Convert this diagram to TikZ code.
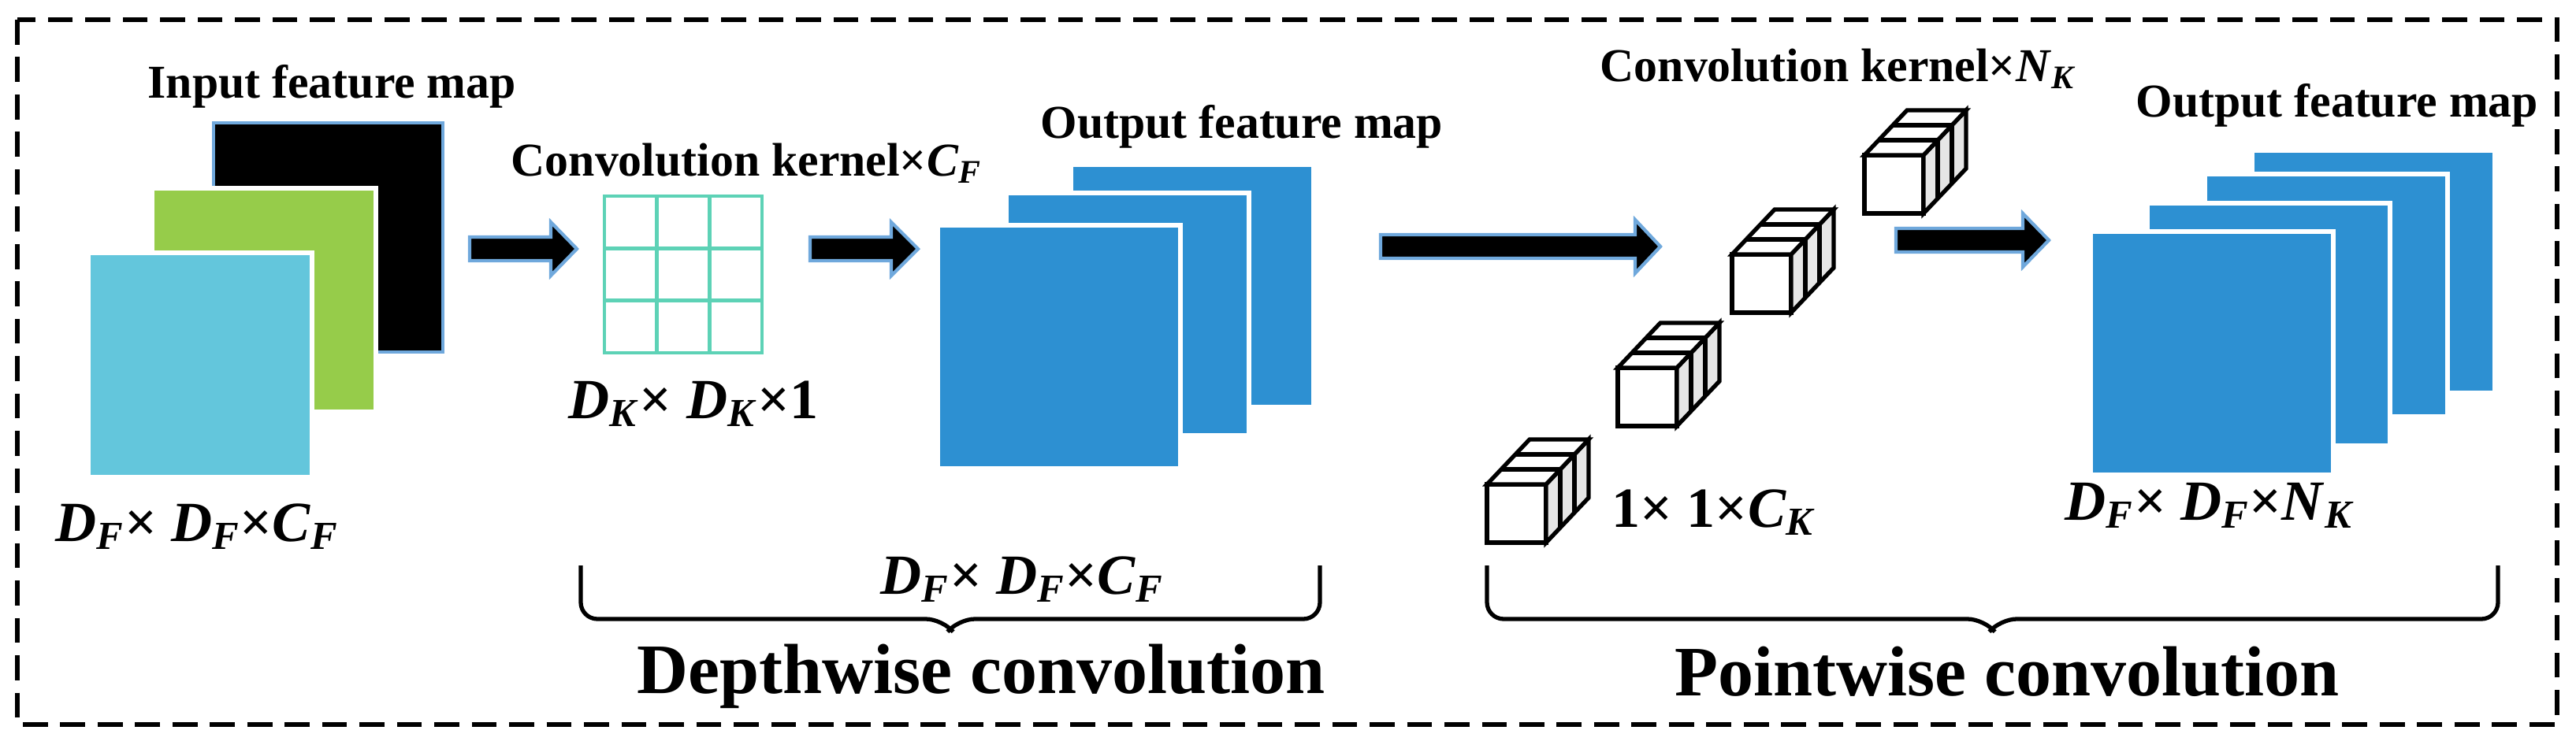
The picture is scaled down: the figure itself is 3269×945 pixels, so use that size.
\documentclass[tikz,border=0pt]{standalone}
\usepackage{fontspec}
\setmainfont{Liberation Serif}
\begin{document}
\begin{tikzpicture}[x=0.01cm,y=-0.01cm,
  ttl/.style={font=\fontsize{17}{20}\selectfont\bfseries,anchor=base west,inner sep=0},
  big/.style={font=\fontsize{25.6}{30}\selectfont\bfseries,anchor=base west,inner sep=0},
  dim/.style={font=\fontsize{20.5}{24}\selectfont\bfseries,anchor=base west,inner sep=0},
  fmap/.style={draw=white,line width=1.7pt},
  barrow/.style={fill=black,draw=arrowblue,line width=1.2pt},
  cube/.style={draw=black,line width=1.5pt,line join=miter},
  bracel/.style={draw=black,line width=1.5pt,rounded corners=6pt}]
\definecolor{cyanm}{HTML}{63C6DC}
\definecolor{greenm}{HTML}{96CC4A}
\definecolor{outblue}{HTML}{2D90D2}
\definecolor{teal}{HTML}{5DD2B6}
\definecolor{arrowblue}{HTML}{6FA8DC}
\definecolor{sidegray}{HTML}{E6E6E6}
\useasboundingbox (0,0) rectangle (3269,945);
\draw[line width=1.6pt,dash pattern=on 9pt off 4.5pt] (22,25) rectangle (3245,920);
% input maps
\path[fill=black,draw=arrowblue,line width=1.2pt] (271,156) rectangle (562,447);
\path[fmap,fill=greenm] (193,239) rectangle (477,523);
\path[fmap,fill=cyanm] (112,321) rectangle (396,606);
\node[ttl] (tin) at (187,124) {Input feature map};
\node[dim] (lin) at (70,687) {\textit{D}\textsubscript{\textit{F}}× \textit{D}\textsubscript{\textit{F}}×\textit{C}\textsubscript{\textit{F}}};
% arrows
\newcommand{\blockarr}[4]{\path[barrow] (#1,{#4-15}) -- (#3,{#4-15}) -- (#3,{#4-34}) -- (#2,#4) -- (#3,{#4+34}) -- (#3,{#4+15}) -- (#1,{#4+15}) -- cycle;}
\blockarr{596}{732}{699}{316}
\blockarr{1028}{1165}{1131}{316}
\blockarr{1752}{2107}{2075}{313}
\blockarr{2406}{2600}{2567}{305}
% grid
\draw[teal,line width=1.4pt] (767,249) rectangle (967,448);
\foreach \i in {1,2} {
  \draw[teal,line width=1.4pt] ({767+\i*66.7},249) -- ({767+\i*66.7},448);
  \draw[teal,line width=1.4pt] (767,{249+\i*66.3}) -- (967,{249+\i*66.3});
}
\node[ttl] (tk1) at (648,223) {Convolution kernel×\textit{C}\textsubscript{\textit{F}}};
\node[dim] (lk1) at (721,531) {\textit{D}\textsubscript{\textit{K}}× \textit{D}\textsubscript{\textit{K}}×1};
% output maps 1
\path[fmap,fill=outblue] (1359,209) rectangle (1667,517);
\path[fmap,fill=outblue] (1277,245) rectangle (1585,553);
\path[fmap,fill=outblue] (1190,286) rectangle (1498,595);
\node[ttl] (to1) at (1320,175) {Output feature map};
% brace 1
\draw[bracel] (737,718) -- (737,786) -- (1196,786) -- (1206,798);
\draw[bracel] (1675,718) -- (1675,786) -- (1216,786) -- (1206,798);
\node[dim] (lo1) at (1117,754) {\textit{D}\textsubscript{\textit{F}}× \textit{D}\textsubscript{\textit{F}}×\textit{C}\textsubscript{\textit{F}}};
\node[big] (dw) at (808,880) {Depthwise convolution};
% cubes
\newcommand{\kcube}[2]{%
  \path[cube,fill=white] (#1,#2) rectangle ({#1+75},{#2+74});
  \path[cube,fill=sidegray] ({#1+75},#2) -- ({#1+129},{#2-57}) -- ({#1+129},{#2+17}) -- ({#1+75},{#2+74}) -- cycle;
  \path[cube,fill=white] (#1,#2) -- ({#1+54},{#2-57}) -- ({#1+129},{#2-57}) -- ({#1+75},#2) -- cycle;
  \foreach \k in {1,2} {
    \draw[cube] ({#1+\k*18},{#2-\k*19}) -- ({#1+75+\k*18},{#2-\k*19}) -- ({#1+75+\k*18},{#2+74-\k*19});
  }}
\kcube{1887}{615}
\kcube{2053}{467}
\kcube{2198}{323}
\kcube{2366}{197}
\node[ttl] (tk2) at (2030,103) {Convolution kernel×\textit{N}\textsubscript{\textit{K}}};
\node[dim] (lk2) at (2045,669) {1× 1×\textit{C}\textsubscript{\textit{K}}};
% output maps 2
\path[fmap,fill=outblue] (2858,191) rectangle (3166,499);
\path[fmap,fill=outblue] (2798,221) rectangle (3106,529);
\path[fmap,fill=outblue] (2725,258) rectangle (3033,566);
\path[fmap,fill=outblue] (2653,294) rectangle (2961,603);
\node[ttl] (to2) at (2710,148) {Output feature map};
\node[dim] (lo2) at (2620,660) {\textit{D}\textsubscript{\textit{F}}× \textit{D}\textsubscript{\textit{F}}×\textit{N}\textsubscript{\textit{K}}};
% brace 2
\draw[bracel] (1887,718) -- (1887,786) -- (2518,786) -- (2528,798);
\draw[bracel] (3170,718) -- (3170,786) -- (2538,786) -- (2528,798);
\node[big] (pw) at (2125,883) {Pointwise convolution};
\end{tikzpicture}
\end{document}
